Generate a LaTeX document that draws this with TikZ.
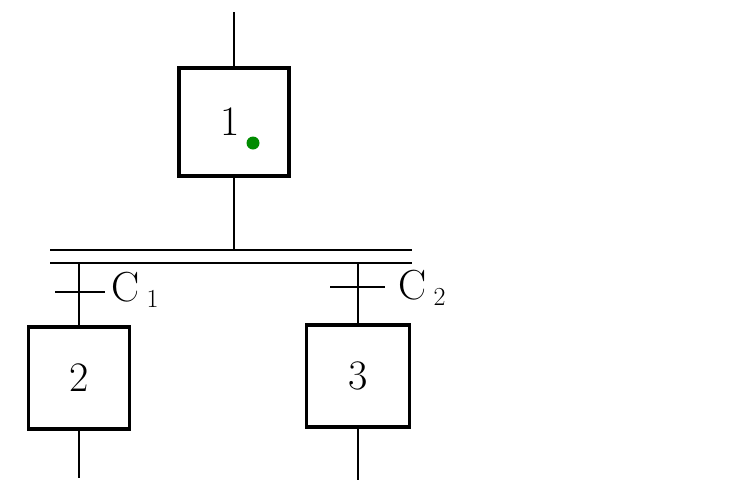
\documentclass[tikz,border=0pt]{standalone}
\usepackage{fontspec}
\usetikzlibrary{positioning}
\begin{document}
\begin{tikzpicture}[x=1pt,y=-1pt,
  big/.style={font=\fontsize{42}{46}\selectfont},
  stepbox/.style={draw,line width=3.5pt,inner sep=0pt,big},
  wire/.style={line width=1.8pt},
  bar/.style={line width=2.2pt}]
\useasboundingbox (0,0) rectangle (739,501);
\node[stepbox,minimum width=110pt,minimum height=108pt] (s1) at (234,122) {};
\node[big] (t1) at (230,122) {1};
\fill[green!55!black] (253,143) circle (6.5pt);
\node[stepbox,minimum width=101pt,minimum height=102pt] (s2) at (79,378) {2};
\node[stepbox,minimum width=103pt,minimum height=102pt] (s3) at (358,376) {3};
\coordinate (top) at (234,12);
\coordinate (b2) at (79,478);
\coordinate (b3) at (358,480);
\coordinate (jl) at (50,250); \coordinate (jr) at (412,250);
\coordinate (kl) at (50,263); \coordinate (kr) at (412,263);
\draw[wire] (top) -- (s1.north);
\draw[wire] (s1.south) -- (s1.south |- jl);
\draw[line width=1.5pt] (jl) -- (jr);
\draw[line width=1.5pt] (kl) -- (kr);
\draw[wire] (s2.north |- kl) -- (s2.north);
\draw[wire] (s3.north |- kl) -- (s3.north);
\draw[wire] (s2.south) -- (b2);
\draw[wire] (s3.south) -- (b3);
\coordinate (c1a) at (55,292); \coordinate (c1b) at (105,292);
\coordinate (c2a) at (330,287); \coordinate (c2b) at (385,287);
\draw[bar] (c1a) -- (c1b);
\draw[bar] (c2a) -- (c2b);
\node[big,anchor=west] (l1) at (108,290) {C\,\raisebox{-6pt}{\fontsize{26}{28}\selectfont 1}};
\node[big,anchor=west] (l2) at (395,288) {C\,\raisebox{-6pt}{\fontsize{26}{28}\selectfont 2}};
\end{tikzpicture}
\end{document}
